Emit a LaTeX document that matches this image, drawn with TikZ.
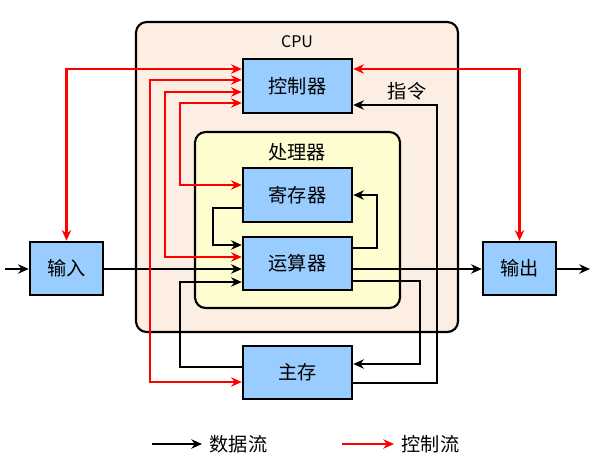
\documentclass[tikz,border=0pt]{standalone}
\usepackage{fontspec}
\setmainfont{Noto Sans CJK SC}
\usetikzlibrary{arrows.meta}
\definecolor{boxblue}{HTML}{99CCFF}
\definecolor{cpufill}{HTML}{FDEEE4}
\definecolor{procfill}{HTML}{FEFDD0}
\begin{document}
\begin{tikzpicture}[x=0.75pt,y=-0.75pt,
    unit/.style={draw, line width=1.6pt, fill=boxblue, minimum width=82pt, minimum height=40pt, inner sep=0pt, font=\Large},
    data/.style={-{Stealth[length=8pt,width=7pt]}, line width=2.1pt, black},
    ctrl/.style={{Stealth[length=8pt,width=7pt]}-{Stealth[length=8pt,width=7pt]}, line width=2.1pt, red},
    legctrl/.style={-{Stealth[length=8pt,width=7pt]}, line width=2.1pt, red}]
  \useasboundingbox (0,0) rectangle (600,472);
  % frames
  \draw[line width=1.6pt, rounded corners=8pt, fill=cpufill] (136,22) rectangle (458,332);
  \node[font=\large] (cpu) at (297,42) {CPU};
  \draw[line width=1.6pt, rounded corners=8pt, fill=procfill] (195,132) rectangle (400,308);
  \node[font=\Large] (proc) at (297,152) {处理器};
  % units
  \node[unit] (ctl) at (297.5,86) {控制器};
  \node[unit] (reg) at (297.5,195) {寄存器};
  \node[unit] (alu) at (297.5,263.5) {运算器};
  \node[unit] (mem) at (297.5,372.5) {主存};
  \node[unit, minimum width=55pt] (in) at (66.5,268.5) {输入};
  \node[unit, minimum width=55pt] (out) at (519.5,268.5) {输出};
  \coordinate (src) at (5,269);
  \coordinate (snk) at (590,269);
  % data flow
  \draw[data] (src) -- (in.west |- src);
  \draw[data] (in.east |- 0,269) -- (alu.west |- 0,269);
  \draw[data] (alu.east |- 0,269) -- (out.west |- 0,269);
  \draw[data] (out.east |- 0,269) -- (snk);
  \draw[data] (reg.west |- 0,208) -| (213,245) -- (alu.west |- 0,245);
  \draw[data] (alu.east |- 0,248) -| (377,195) -- (reg.east |- 0,195);
  \draw[data] (alu.east |- 0,281) -| (420,364) -- (mem.east |- 0,364);
  \draw[data] (mem.west |- 0,367) -| (180,282) -- (alu.west |- 0,282);
  \draw[data] (mem.east |- 0,383) -| (437,105) -- (ctl.east |- 0,105);
  \node[font=\Large] (instr) at (407,91) {指令};
  % control flow
  \draw[ctrl] (ctl.west |- 0,69) -| (in.north);
  \draw[ctrl] (ctl.east |- 0,69) -| (out.north);
  \draw[ctrl] (ctl.west |- 0,80) -| (150,382) -- (mem.west |- 0,382);
  \draw[ctrl] (ctl.west |- 0,92) -| (165,257) -- (alu.west |- 0,257);
  \draw[ctrl] (ctl.west |- 0,103) -| (180,185) -- (reg.west |- 0,185);
  % legend
  \coordinate (l1a) at (152,444); \coordinate (l1b) at (202,444);
  \coordinate (l2a) at (342,444); \coordinate (l2b) at (394,444);
  \draw[data] (l1a) -- (l1b);
  \node[font=\Large, anchor=west] (leg1) at (205,444) {数据流};
  \draw[legctrl] (l2a) -- (l2b);
  \node[font=\Large, anchor=west] (leg2) at (397,444) {控制流};
\end{tikzpicture}
\end{document}
